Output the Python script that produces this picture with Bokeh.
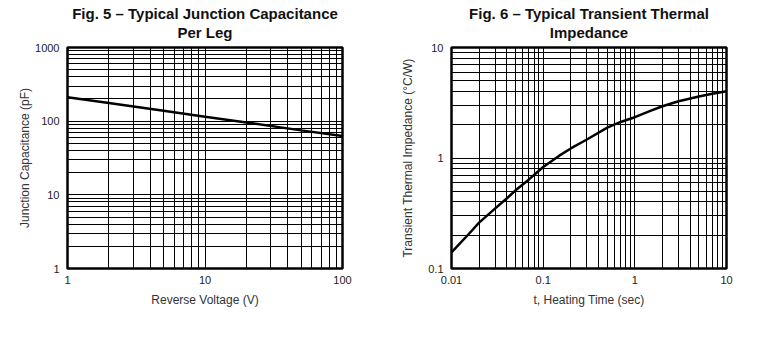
from bokeh.plotting import figure
from bokeh.models import FixedTicker, Title
from bokeh.layouts import row
from bokeh.embed import file_html
from bokeh.resources import INLINE

# ---- Fig. 5 data ----
cap_voltage = [1, 2, 5, 10, 20, 50, 100]
cap_pf = [211, 176, 138, 115, 96, 75, 63]
cap_x_major = [1, 10, 100]
cap_x_minor = [2, 3, 4, 5, 6, 7, 8, 9, 20, 30, 40, 50, 60, 70, 80, 90]
cap_y_major = [1, 10, 100, 1000]
cap_y_minor = [2, 3, 4, 5, 6, 7, 8, 9, 20, 30, 40, 50, 60, 70, 80, 90,
               200, 300, 400, 500, 600, 700, 800, 900]

# ---- Fig. 6 data ----
th_time = [0.01, 0.015, 0.02, 0.03, 0.04, 0.05, 0.07, 0.1, 0.15, 0.2, 0.3, 0.5,
           0.7, 1, 1.5, 2, 3, 5, 7, 10]
th_z = [0.14, 0.2, 0.26, 0.35, 0.43, 0.51, 0.64, 0.83, 1.05, 1.22, 1.47, 1.88,
        2.12, 2.34, 2.68, 2.94, 3.26, 3.6, 3.82, 4.02]
th_x_major = [0.01, 0.1, 1, 10]
th_x_minor = [0.02, 0.03, 0.04, 0.05, 0.06, 0.07, 0.08, 0.09,
              0.2, 0.3, 0.4, 0.5, 0.6, 0.7, 0.8, 0.9,
              2, 3, 4, 5, 6, 7, 8, 9]
th_y_major = [0.1, 1, 10]
th_y_minor = [0.2, 0.3, 0.4, 0.5, 0.6, 0.7, 0.8, 0.9, 2, 3, 4, 5, 6, 7, 8, 9]

FONT = "Liberation Sans"


def make_fig(title1, title2, xlab, ylab, xr, yr, xmaj, xmin, ymaj, ymin, width, left,
             ylab_standoff):
    p = figure(width=width, height=351, x_axis_type="log", y_axis_type="log",
               x_range=xr, y_range=yr, output_backend="svg", toolbar_location=None,
               min_border_left=left, min_border_right=width - left - 275,
               min_border_top=47, min_border_bottom=83)
    p.add_layout(Title(text=title2, align="center", text_font=FONT, text_font_size="15px",
                       text_font_style="bold", text_color="#111111", standoff=14), "above")
    p.add_layout(Title(text=title1, align="center", text_font=FONT, text_font_size="15px",
                       text_font_style="bold", text_color="#111111", standoff=-14), "above")
    p.background_fill_color = "white"
    p.border_fill_color = "white"
    p.outline_line_color = "black"
    p.outline_line_width = 2.5
    p.xaxis.ticker = FixedTicker(ticks=xmaj, minor_ticks=xmin)
    p.yaxis.ticker = FixedTicker(ticks=ymaj, minor_ticks=ymin)
    p.xaxis.major_label_overrides = {v: ("%g" % v) for v in xmaj}
    p.yaxis.major_label_overrides = {v: ("%g" % v) for v in ymaj}
    for ax in (p.xaxis, p.yaxis):
        ax.axis_line_color = None
        ax.major_tick_line_color = None
        ax.minor_tick_line_color = None
        ax.major_tick_out = 0
        ax.major_tick_in = 0
        ax.major_label_text_font = FONT
        ax.major_label_text_font_size = "11px"
        ax.major_label_text_color = "#222222"
        ax.axis_label_text_font = FONT
        ax.axis_label_text_font_size = "12px"
        ax.axis_label_text_font_style = "normal"
        ax.axis_label_text_color = "#333333"
    p.xaxis.axis_label = xlab
    p.yaxis.axis_label = ylab
    p.xaxis.major_label_standoff = 3
    p.yaxis.major_label_standoff = 4
    p.xaxis.axis_label_standoff = 6
    p.yaxis.axis_label_standoff = ylab_standoff
    for g in (p.xgrid, p.ygrid):
        g.grid_line_color = "black"
        g.grid_line_width = 1
        g.grid_line_alpha = 1
        g.minor_grid_line_color = "black"
        g.minor_grid_line_width = 1
    return p


p1 = make_fig("Fig. 5 \u2013 Typical Junction Capacitance", "Per Leg",
              "Reverse Voltage (V)", "Junction Capacitance (pF)",
              (1, 100), (1, 1000), cap_x_major, cap_x_minor, cap_y_major, cap_y_minor, 385, 67, 0)
p1.line(cap_voltage, cap_pf, line_color="black", line_width=2.5)

p2 = make_fig("Fig. 6 \u2013 Typical Transient Thermal", "Impedance",
              "t, Heating Time (sec)", "Transient Thermal Impedance (\u00b0C/W)",
              (0.01, 10), (0.1, 10), th_x_major, th_x_minor, th_y_major, th_y_minor, 384, 66, 10)
p2.line(th_time, th_z, line_color="black", line_width=2.5, line_join="round")

layout = row(p1, p2)
open("out.html", "w").write(file_html(layout, INLINE))
